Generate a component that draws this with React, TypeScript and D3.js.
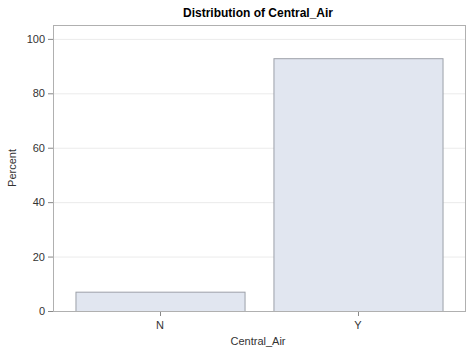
import React from "react";
import * as d3 from "d3";

const categories = ["N", "Y"];
const percents = [7.1, 92.9];
const yTicks = [0, 20, 40, 60, 80, 100];

const W = 474;
const H = 355;
const left = 53;
const right = 465;
const top = 25;
const bottom = 311;

export default function App() {
  const x = d3
    .scaleBand<string>()
    .domain(categories)
    .range([left, right])
    .paddingInner(0.146)
    .paddingOuter(0.1135);
  const y = d3.scaleLinear().domain([0, 105.1]).range([bottom, top]);
  const font = "'Liberation Sans', Arial, sans-serif";
  return (
    <svg
      width={W}
      height={H}
      style={{ position: "absolute", left: 0, top: 0, background: "#fff" }}
      fontFamily={font}
    >
      <text x={258} y={17} textAnchor="middle" fontSize={12} fontWeight="bold" fill="#000">
        Distribution of Central_Air
      </text>
      {yTicks.map((t) => (
        <g key={t}>
          {t > 0 && (
            <line x1={left} x2={right} y1={y(t) + 0.5} y2={y(t) + 0.5} stroke="#ebebeb" />
          )}
          <line x1={left - 5} x2={left} y1={y(t) + 0.5} y2={y(t) + 0.5} stroke="#888" />
          <text x={left - 8} y={y(t) + 4} textAnchor="end" fontSize={11} fill="#333">
            {t}
          </text>
        </g>
      ))}
      {categories.map((c, i) => (
        <g key={c}>
          <rect
            x={(x(c) as number) + 0.5}
            y={y(percents[i]) + 0.5}
            width={x.bandwidth()}
            height={bottom - y(percents[i])}
            fill="#e1e6f0"
            stroke="#9ca0a8"
            strokeWidth={1}
          />
          <line
            x1={(x(c) as number) + x.bandwidth() / 2 + 0.5}
            x2={(x(c) as number) + x.bandwidth() / 2 + 0.5}
            y1={bottom}
            y2={bottom + 5}
            stroke="#888"
          />
          <text
            x={(x(c) as number) + x.bandwidth() / 2}
            y={bottom + 18}
            textAnchor="middle"
            fontSize={11}
            fill="#333"
          >
            {c}
          </text>
        </g>
      ))}
      <rect
        x={left + 0.5}
        y={top + 0.5}
        width={right - left}
        height={bottom - top}
        fill="none"
        stroke="#b0b0b0"
      />
      <text x={258} y={345} textAnchor="middle" fontSize={11} fill="#333">
        Central_Air
      </text>
      <text
        transform={`translate(16, ${(top + bottom) / 2}) rotate(-90)`}
        textAnchor="middle"
        fontSize={11}
        fill="#333"
      >
        Percent
      </text>
    </svg>
  );
}
